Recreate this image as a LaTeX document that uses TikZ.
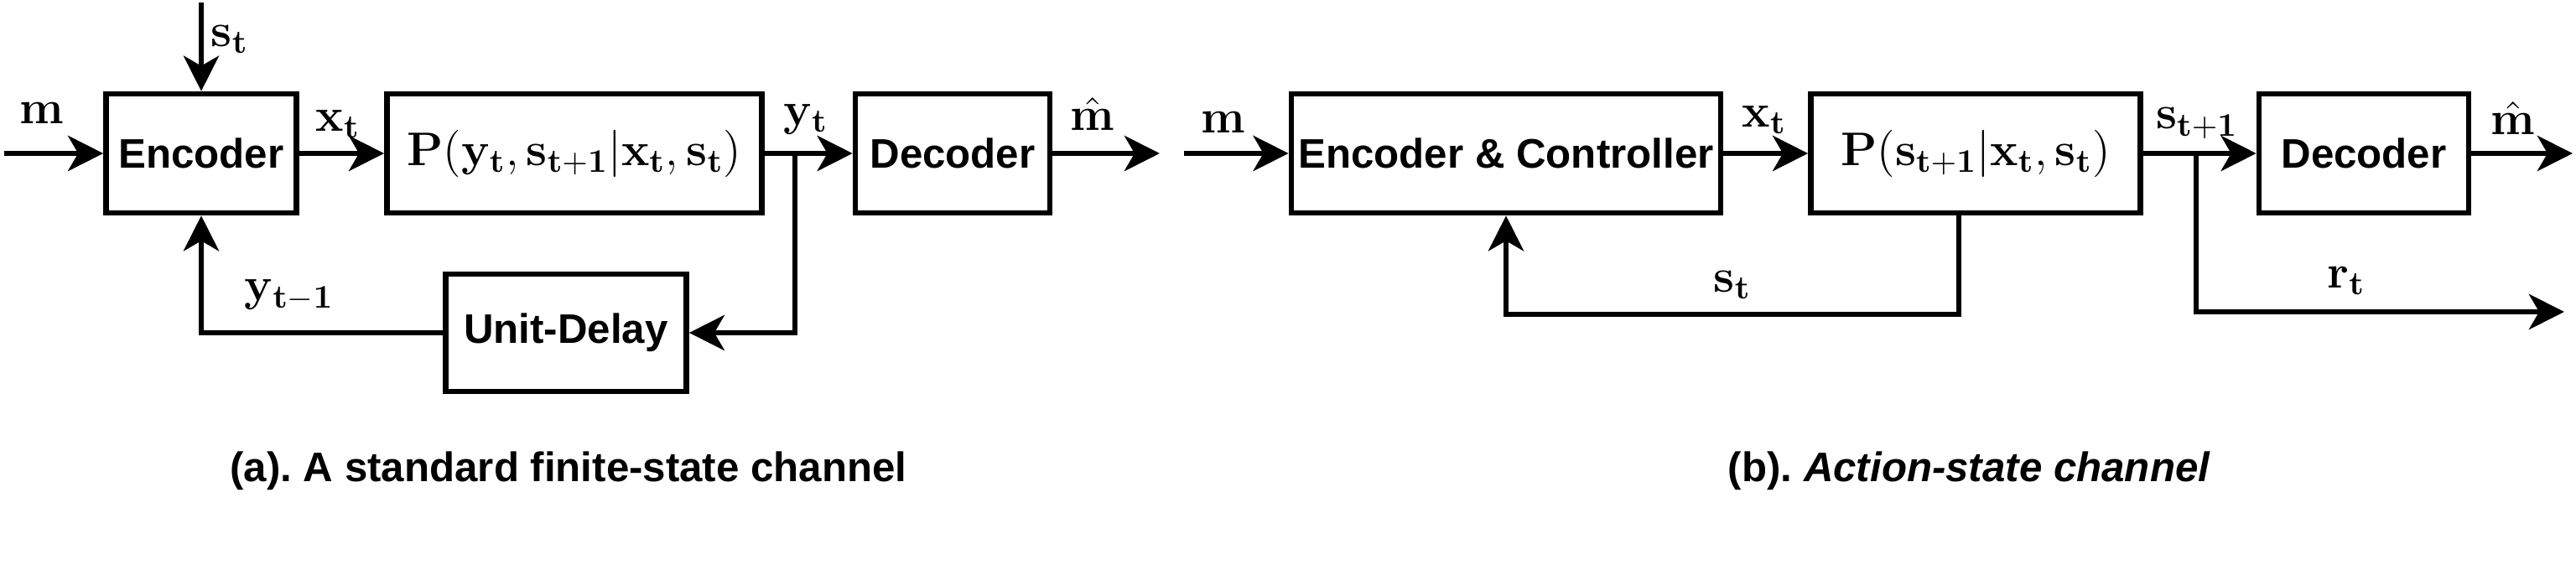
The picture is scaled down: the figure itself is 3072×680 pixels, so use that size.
\RequirePackage{fix-cm}
\documentclass[tikz,border=0pt]{standalone}
\usepackage{amsmath}
\usepackage[no-math]{fontspec}
\newfontfamily\blockfont{Liberation Sans}
\usetikzlibrary{arrows.meta}
\frenchspacing

\begin{document}
\begin{tikzpicture}[x=0.01cm,y=-0.01cm]
  \tikzset{block/.style = {shape=rectangle,draw,line width=1.85pt,minimum height=1.42cm,inner sep=0pt,font=\blockfont\bfseries\fontsize{14}{17}\selectfont}}
  \tikzset{sig/.style = {line width=1.85pt,-{Stealth[length=0.42cm,width=0.42cm,inset=0.12cm]}}}
  \tikzset{sym/.style = {inner sep=0pt,font=\fontsize{16}{19}\selectfont}}
  \tikzset{caption/.style = {inner sep=0pt,font=\blockfont\bfseries\fontsize{14}{17}\selectfont}}
  \useasboundingbox (0,0) rectangle (3072,680);

  % (a) standard finite-state channel
	\node[block,minimum width=2.27cm] (encA) at (240,183) {Encoder};
	\node[block,minimum width=4.47cm] (chA) at (685,183) {\fontsize{16}{19}\selectfont$\mathbf{P}(\mathbf{y_t},\mathbf{s_{t+1}}|\mathbf{x_t},\mathbf{s_t})$};
	\node[block,minimum width=2.32cm] (decA) at (1136,183) {Decoder};
	\node[block,minimum width=2.87cm,minimum height=1.40cm] (delay) at (675,397) {Unit-Delay};
	\coordinate (inA) at (5,183);
	\coordinate (outA) at (1383,183);
	\coordinate (stA) at (240,3);
	\coordinate (brA) at (948,183);

	\node[sym] (mA) at (50,135) {$\mathbf{m}$};
	\node[sym] (sA) at (274,47) {$\mathbf{s_t}$};
	\node[sym] (xA) at (403,148) {$\mathbf{x_t}$};
	\node[sym] (yA) at (961,142) {$\mathbf{y_t}$};
	\node[sym] (mhA) at (1303,136) {$\hat{\mathbf{m}}$};
	\node[sym] (yoldA) at (345,352) {$\mathbf{y_{t-1}}$};

  % (b) action-state channel
	\node[block,minimum width=5.12cm] (encB) at (1796,183) {Encoder \& Controller};
	\node[block,minimum width=3.93cm] (chB) at (2356,183) {\fontsize{16}{19}\selectfont$\mathbf{P}(\mathbf{s_{t+1}}|\mathbf{x_t},\mathbf{s_t})$};
	\node[block,minimum width=2.50cm] (decB) at (2819,183) {Decoder};
	\coordinate (inB) at (1412,183);
	\coordinate (outB) at (3068,183);
	\coordinate (brB) at (2619,183);
	\coordinate (rB) at (3058,372);
	\coordinate (fbB) at (2336,375);

	\node[sym] (mB) at (1459,146) {$\mathbf{m}$};
	\node[sym] (xB) at (2104,143) {$\mathbf{x_t}$};
	\node[sym] (snB) at (2620,147) {$\mathbf{s_{t+1}}$};
	\node[sym] (mhB) at (2997,141) {$\hat{\mathbf{m}}$};
	\node[sym] (sB) at (2066,340) {$\mathbf{s_t}$};
	\node[sym] (rtB) at (2798,335) {$\mathbf{r_t}$};

    \foreach \from/\to in {inA/encA,stA/encA,encA/chA,chA/decA,decA/outA,inB/encB,encB/chB,chB/decB,decB/outB}
    \draw[sig] (\from) -- (\to);

	\draw[sig] (brA) |- (delay.east);
	\draw[sig] (delay.west) -| (encA.south);
	\draw[sig] (brB) |- (rB);
	\draw[sig] (chB.south -| fbB) -- (fbB) -| (encB.south);

	\node[caption] (capA) at (678,562) {(a). A standard finite-state channel};
	\node[caption] (capB) at (2348,562) {(b). \itshape Action-state channel};
\end{tikzpicture}
\end{document}
